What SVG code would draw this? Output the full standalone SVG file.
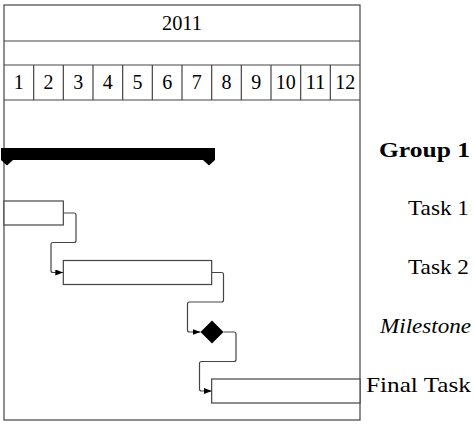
<svg xmlns="http://www.w3.org/2000/svg" width="474" height="430" viewBox="0 0 474 430">
<style>
.frame{fill:none;stroke:#444;stroke-width:1.2}
.bar{fill:#fff;stroke:#444;stroke-width:1.2}
.link{fill:none;stroke:#444;stroke-width:1.2;stroke-linejoin:round}
text{font-family:Liberation Serif, Times New Roman, Times, Noto Serif, DejaVu Serif, serif;font-size:20px;fill:#000}
.num{text-anchor:middle}
.lbl{text-anchor:end;font-size:21px}
</style>
<defs>
<marker id="arr" viewBox="0 0 8 6" refX="8" refY="3" markerWidth="8" markerHeight="6" markerUnits="userSpaceOnUse" orient="auto">
<path d="M0,0 L8,3 L0,6 Z" fill="#000"/>
</marker>
</defs>
<g id="calendar">
<rect class="frame" x="4" y="5" width="356" height="415"/>
<line class="frame" x1="4" y1="41" x2="360" y2="41"/>
<line class="frame" x1="4" y1="65" x2="360" y2="65"/>
<line class="frame" x1="4" y1="100" x2="360" y2="100"/>
<g class="frame">
<line x1="33.67" y1="65" x2="33.67" y2="100"/>
<line x1="63.33" y1="65" x2="63.33" y2="100"/>
<line x1="93" y1="65" x2="93" y2="100"/>
<line x1="122.67" y1="65" x2="122.67" y2="100"/>
<line x1="152.33" y1="65" x2="152.33" y2="100"/>
<line x1="182" y1="65" x2="182" y2="100"/>
<line x1="211.67" y1="65" x2="211.67" y2="100"/>
<line x1="241.33" y1="65" x2="241.33" y2="100"/>
<line x1="271" y1="65" x2="271" y2="100"/>
<line x1="300.67" y1="65" x2="300.67" y2="100"/>
<line x1="330.33" y1="65" x2="330.33" y2="100"/>
</g>
<text class="num" x="182" y="30" textLength="40" lengthAdjust="spacingAndGlyphs">2011</text>
<text class="num" x="18.83" y="89">1</text>
<text class="num" x="48.5" y="89">2</text>
<text class="num" x="78.17" y="89">3</text>
<text class="num" x="107.83" y="89">4</text>
<text class="num" x="137.5" y="89">5</text>
<text class="num" x="167.17" y="89">6</text>
<text class="num" x="196.83" y="89">7</text>
<text class="num" x="226.5" y="89">8</text>
<text class="num" x="256.17" y="89">9</text>
<text class="num" x="285.83" y="89" textLength="20" lengthAdjust="spacingAndGlyphs">10</text>
<text class="num" x="315.5" y="89" textLength="20" lengthAdjust="spacingAndGlyphs">11</text>
<text class="num" x="345.17" y="89" textLength="20" lengthAdjust="spacingAndGlyphs">12</text>
</g>
<g id="group1">
<polygon points="1,148 215,148 215,160 209,165.5 203,160 13,160 7,165.5 1,160" fill="#000"/>
<text class="lbl" x="470" y="157" font-weight="bold" textLength="91" lengthAdjust="spacingAndGlyphs">Group 1</text>
</g>
<g id="task1">
<rect class="bar" x="4" y="201" width="59.33" height="24"/>
<text class="lbl" x="469" y="215" textLength="61" lengthAdjust="spacingAndGlyphs">Task 1</text>
</g>
<g id="task2">
<rect class="bar" x="63.33" y="260.5" width="148.33" height="24"/>
<text class="lbl" x="469" y="274" textLength="61" lengthAdjust="spacingAndGlyphs">Task 2</text>
</g>
<g id="milestone">
<polygon points="212,320.5 223.5,332 212,343.5 200.5,332" fill="#000"/>
<text class="lbl" x="471" y="333" font-style="italic" textLength="91" lengthAdjust="spacingAndGlyphs">Milestone</text>
</g>
<g id="finaltask">
<rect class="bar" x="211.67" y="379" width="148.33" height="24"/>
<text class="lbl" x="471" y="392" textLength="105" lengthAdjust="spacingAndGlyphs">Final Task</text>
</g>
<g id="connectors">
<path class="link" marker-end="url(#arr)" d="M63.33,213 H74 Q76,213 76,215 V240.5 Q76,242.5 74,242.5 H53 Q51,242.5 51,244.5 V270.5 Q51,272.5 53,272.5 H63.33"/>
<path class="link" marker-end="url(#arr)" d="M211.67,272.5 H221.5 Q223.5,272.5 223.5,274.5 V300 Q223.5,302 221.5,302 H189.5 Q187.5,302 187.5,304 V330 Q187.5,332 189.5,332 H200.5"/>
<path class="link" marker-end="url(#arr)" d="M223.5,332 H234 Q236,332 236,334 V359.5 Q236,361.5 234,361.5 H201.5 Q199.5,361.5 199.5,363.5 V389 Q199.5,391 201.5,391 H211.67"/>
</g>
</svg>
